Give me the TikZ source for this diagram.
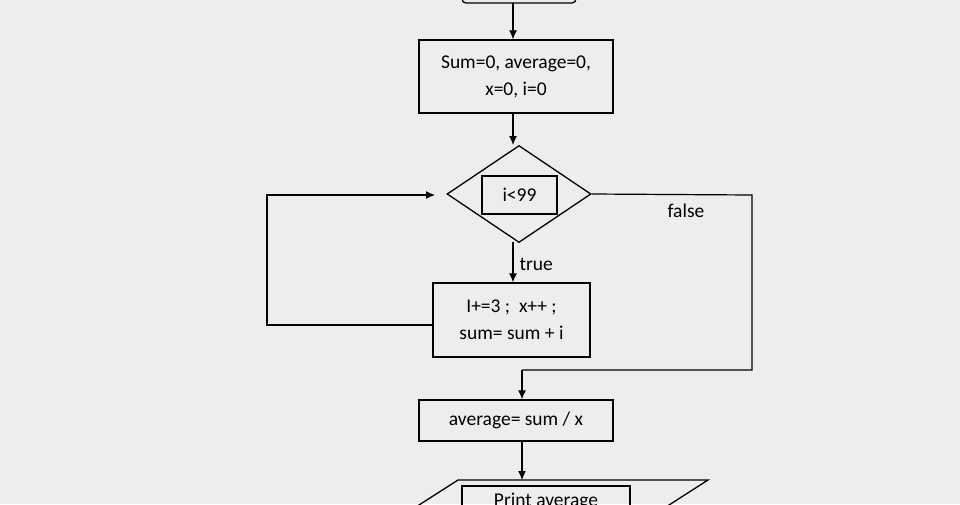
\documentclass[tikz,border=0pt]{standalone}
\usepackage{fontspec}
\setmainfont{Carlito}
\usetikzlibrary{arrows.meta,shapes.geometric}
\begin{document}
\begin{tikzpicture}[x=1pt,y=-1pt,
  box/.style={draw,line width=1.3pt,inner sep=0pt},
  arr/.style={draw,line width=1.2pt,-{Latex[length=9pt,width=8pt]}},
  ln/.style={draw,line width=1.2pt},
  txt/.style={font=\fontsize{19.5}{27}\selectfont,align=center}]
\fill[black!7] (0,0) rectangle (960,504);
\clip (0,0) rectangle (960,504);
\useasboundingbox (0,0) rectangle (960,504);
% top cut-off terminator
\draw[line width=1.3pt,rounded corners=4pt] (462,-20) rectangle (576,3);
\coordinate (topb) at (513,3);
\node[box,minimum width=194pt,minimum height=73pt] (init) at (516,76.5) {};
\node[txt] at (init) {Sum=0, average=0,\\x=0, i=0};
\node[box,diamond,aspect=1.48,minimum width=144pt,minimum height=97pt] (dec) at (519,194) {};
\node[box,minimum width=75pt,minimum height=38pt] (decin) at (519.5,195) {};
\node[txt] at (decin) {i<99};
\node[box,minimum width=157pt,minimum height=74pt] (body) at (511.5,320) {};
\node[txt] at (body) {I+=3 ;\ \ x++ ;\\sum= sum + i};
\node[box,minimum width=194pt,minimum height=41pt] (avg) at (516,420.5) {};
\node[txt] at (avg) {average= sum / x};
% parallelogram (cut off)
\draw[line width=1.3pt] (380,530) -- (458,480) -- (708,480) -- (630,530);
\node[box,minimum width=168pt,minimum height=40pt] (pr) at (546,506) {};
\node[txt,anchor=north] at (546,490) {Print average};
% connectors
\draw[arr] (topb) -- (init.north -| topb);
\draw[arr] (513,113) -- (513,145);
\draw[arr] (513,242) -- (body.north -| 513,0);
\node[txt,anchor=west] at (516,264) {true};
\coordinate (l1) at (267,325);
\coordinate (l2) at (267,195);
\draw[ln] (body.west |- 0,325) -- (l1) -- (l2) -- (380,195);
\draw[arr] (380,195) -- (435,195);
\coordinate (f1) at (752,195);
\coordinate (f2) at (752,370);
\coordinate (f3) at (522,370);
\draw[ln] (dec.east) -- (f1) -- (f2) -- (f3);
\draw[arr] (f3) -- (avg.north -| f3);
\node[txt] at (686,211) {false};
\draw[arr] (522,441) -- (522,480);
\end{tikzpicture}
\end{document}
